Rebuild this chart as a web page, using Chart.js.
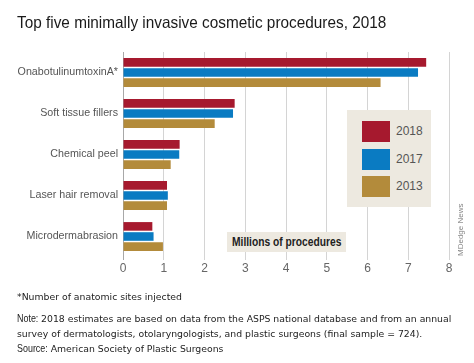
<!DOCTYPE html>
<html>
<head>
<meta charset="utf-8">
<script src="https://cdn.jsdelivr.net/npm/chart.js@4/dist/chart.umd.min.js"></script>
<style>
  body { margin: 0; background: #fff; }
  #wrap { position: relative; width: 474px; height: 363px; overflow: hidden; font-family: "Liberation Sans", Arial, sans-serif; }
  #chart { position: absolute; left: 0; top: 0; }
  .abs { position: absolute; white-space: nowrap; }
  .narrow { display: inline-block; transform-origin: 0 50%; }
  #title { left: 17px; top: 13px; font-size: 16.5px; color: #1a1a1a; }
  #title .narrow { transform: scaleX(0.93); }
  #legend { left: 347px; top: 110px; width: 84px; height: 97px; background: #ede9e0; }
  .item { position: absolute; left: 15px; height: 21px; }
  .item span.sw { position: absolute; left: 0; top: 0; width: 28px; height: 21px; }
  .item span.lb { position: absolute; left: 34px; top: 3px; font-size: 12px; color: #555; }
  #units { left: 227px; top: 232px; width: 119px; height: 20px; background: #ede9e0; font-size: 12.5px; font-weight: bold; color: #222; line-height: 20px; }
  #units .narrow { transform: scaleX(0.82); margin-left: 5px; }
  #credit { left: 456px; top: 256px; transform: rotate(-90deg); transform-origin: 0 0; font-size: 8px; color: #888; }
  .foot { font-family: "DejaVu Sans", Verdana, sans-serif; font-size: 9.3px; color: #222; left: 17px; }
  .lead { font-family: "Liberation Sans", sans-serif; font-size: 10.5px; display: inline-block; transform: scaleX(0.85); transform-origin: 0 50%; }
</style>
</head>
<body>
<div id="wrap">
  <canvas id="chart" width="474" height="363"></canvas>
  <div id="title" class="abs"><span class="narrow">Top five minimally invasive cosmetic procedures, 2018</span></div>
  <div id="legend" class="abs"></div>
  <div id="units" class="abs"><span class="narrow">Millions of procedures</span></div>
  <div id="credit" class="abs">MDedge News</div>
  <div class="abs foot" style="top: 291px;">*Number of anatomic sites injected</div>
  <div class="abs foot" style="top: 311px; line-height: 14.5px;"><span class="lead" style="margin-right: -4px;">Note:</span> 2018 estimates are based on data from the ASPS national database and from an annual<br>survey of dermatologists, otolaryngologists, and plastic surgeons (final sample = 724).</div>
  <div class="abs foot" style="top: 342px;"><span class="lead" style="margin-right: -5.5px;">Source:</span> American Society of Plastic Surgeons</div>
</div>
<script>
// procedures, millions
const procedures = ['OnabotulinumtoxinA*', 'Soft tissue fillers', 'Chemical peel', 'Laser hair removal', 'Microdermabrasion'];
const years = ['2018', '2017', '2013'];
const values2018 = [7.44, 2.74, 1.39, 1.08, 0.72];
const values2017 = [7.24, 2.70, 1.38, 1.10, 0.75];
const values2013 = [6.32, 2.25, 1.17, 1.08, 0.98];
const xTicks = [0, 1, 2, 3, 4, 5, 6, 7, 8];
const colors = ['#a6192e', '#0a7bc2', '#b38b3b'];

const series = [values2018, values2017, values2013];

// legend built from the same arrays
const legend = document.getElementById('legend');
years.forEach(function (y, i) {
    const el = document.createElement('div');
    el.className = 'item';
    el.style.top = (11 + i * 27.5) + 'px';
    el.innerHTML = '<span class="sw" style="background:' + colors[i] + '"></span><span class="lb">' + y + '</span>';
    legend.appendChild(el);
});

const ctx = document.getElementById('chart').getContext('2d');
new Chart(ctx, {
    type: 'bar',
    data: {
        labels: procedures,
        datasets: years.map(function (y, i) {
            return {
                label: y,
                data: series[i],
                backgroundColor: colors[i],
                categoryPercentage: 0.74,
                barPercentage: 0.85
            };
        })
    },
    options: {
        indexAxis: 'y',
        responsive: false,
        animation: false,
        layout: { padding: { left: 0, right: 25, top: 52, bottom: 0 } },
        plugins: {
            legend: { display: false },
            tooltip: { enabled: false }
        },
        scales: {
            x: {
                min: 0,
                max: 8,
                afterBuildTicks: function (scale) {
                    scale.ticks = xTicks.map(function (v) { return { value: v }; });
                },
                afterFit: function (scale) { scale.height = 106; },
                grid: {
                    color: function (c) { return c.index === 0 ? '#a8a8a8' : '#d4d4d4'; },
                    tickLength: 3,
                    drawTicks: true
                },
                border: { display: false },
                ticks: {
                    color: '#666',
                    padding: 1,
                    font: { family: 'Liberation Sans, Arial, sans-serif', size: 12 }
                }
            },
            y: {
                afterFit: function (scale) { scale.width = 123; },
                grid: { display: false, drawTicks: false },
                border: { display: false },
                ticks: {
                    color: '#555',
                    padding: 5,
                    font: { family: 'Liberation Sans, Arial, sans-serif', size: 10.7 }
                }
            }
        }
    }
});
</script>
</body>
</html>
